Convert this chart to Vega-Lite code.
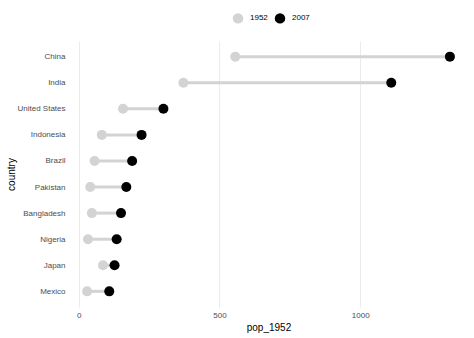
{
  "$schema": "https://vega.github.io/schema/vega-lite/v6.json",
  "width": 399,
  "height": 266,
  "autosize": {"type": "none"},
  "padding": {"left": 69, "top": 41, "right": 6, "bottom": 31},
  "background": "white",
  "datasets": {
    "wide": [
      {"country": "China", "pop_1952": 556.3, "pop_2007": 1318.7},
      {"country": "India", "pop_1952": 372.0, "pop_2007": 1110.4},
      {"country": "United States", "pop_1952": 157.6, "pop_2007": 301.1},
      {"country": "Indonesia", "pop_1952": 82.1, "pop_2007": 223.5},
      {"country": "Brazil", "pop_1952": 56.6, "pop_2007": 190.0},
      {"country": "Pakistan", "pop_1952": 41.3, "pop_2007": 169.3},
      {"country": "Bangladesh", "pop_1952": 46.9, "pop_2007": 150.4},
      {"country": "Nigeria", "pop_1952": 33.1, "pop_2007": 135.0},
      {"country": "Japan", "pop_1952": 86.5, "pop_2007": 127.5},
      {"country": "Mexico", "pop_1952": 30.1, "pop_2007": 108.7}
    ],
    "long": [
      {"country": "China", "year": "1952", "pop": 556.3},
      {"country": "India", "year": "1952", "pop": 372.0},
      {"country": "United States", "year": "1952", "pop": 157.6},
      {"country": "Indonesia", "year": "1952", "pop": 82.1},
      {"country": "Brazil", "year": "1952", "pop": 56.6},
      {"country": "Pakistan", "year": "1952", "pop": 41.3},
      {"country": "Bangladesh", "year": "1952", "pop": 46.9},
      {"country": "Nigeria", "year": "1952", "pop": 33.1},
      {"country": "Japan", "year": "1952", "pop": 86.5},
      {"country": "Mexico", "year": "1952", "pop": 30.1},
      {"country": "China", "year": "2007", "pop": 1318.7},
      {"country": "India", "year": "2007", "pop": 1110.4},
      {"country": "United States", "year": "2007", "pop": 301.1},
      {"country": "Indonesia", "year": "2007", "pop": 223.5},
      {"country": "Brazil", "year": "2007", "pop": 190.0},
      {"country": "Pakistan", "year": "2007", "pop": 169.3},
      {"country": "Bangladesh", "year": "2007", "pop": 150.4},
      {"country": "Nigeria", "year": "2007", "pop": 135.0},
      {"country": "Japan", "year": "2007", "pop": 127.5},
      {"country": "Mexico", "year": "2007", "pop": 108.7}
    ]
  },
  "config": {
    "font": "Liberation Sans",
    "view": {"stroke": null},
    "axis": {
      "domain": false,
      "ticks": false,
      "labelColor": "#4d4d4d",
      "labelFontSize": 8,
      "labelPadding": 4,
      "titleColor": "black",
      "titleFontSize": 10,
      "titleFontWeight": "normal",
      "gridColor": "#ebebeb",
      "gridWidth": 1
    }
  },
  "layer": [
    {
      "data": {"name": "wide"},
      "mark": {"type": "rule", "color": "#d3d3d3", "strokeWidth": 3},
      "encoding": {
        "y": {
          "field": "country", "type": "nominal",
          "sort": ["China", "India", "United States", "Indonesia", "Brazil", "Pakistan", "Bangladesh", "Nigeria", "Japan", "Mexico"],
          "scale": {"type": "point", "padding": 0.6},
          "axis": {"title": "country", "grid": false, "titleX": -58, "titleBaseline": "middle"}
        },
        "x": {
          "field": "pop_1952", "type": "quantitative",
          "scale": {"domain": [-34.3, 1383], "nice": false, "zero": false},
          "axis": {"title": "pop_1952", "values": [0, 500, 1000], "format": "d", "grid": true, "titlePadding": 3}
        },
        "x2": {"field": "pop_2007"}
      }
    },
    {
      "data": {"name": "long"},
      "mark": {"type": "circle", "size": 100, "opacity": 1},
      "encoding": {
        "y": {
          "field": "country", "type": "nominal",
          "sort": ["China", "India", "United States", "Indonesia", "Brazil", "Pakistan", "Bangladesh", "Nigeria", "Japan", "Mexico"]
        },
        "x": {"field": "pop", "type": "quantitative"},
        "color": {
          "field": "year", "type": "nominal",
          "scale": {"domain": ["1952", "2007"], "range": ["#d3d3d3", "black"]},
          "legend": {
            "title": null,
            "orient": "none",
            "direction": "horizontal",
            "legendX": 163,
            "legendY": -29,
            "symbolType": "circle",
            "symbolSize": 110,
            "symbolOpacity": 1,
            "labelFontSize": 8,
            "labelColor": "black",
            "columnPadding": 6,
            "labelOffset": 6
          }
        }
      }
    }
  ]
}
